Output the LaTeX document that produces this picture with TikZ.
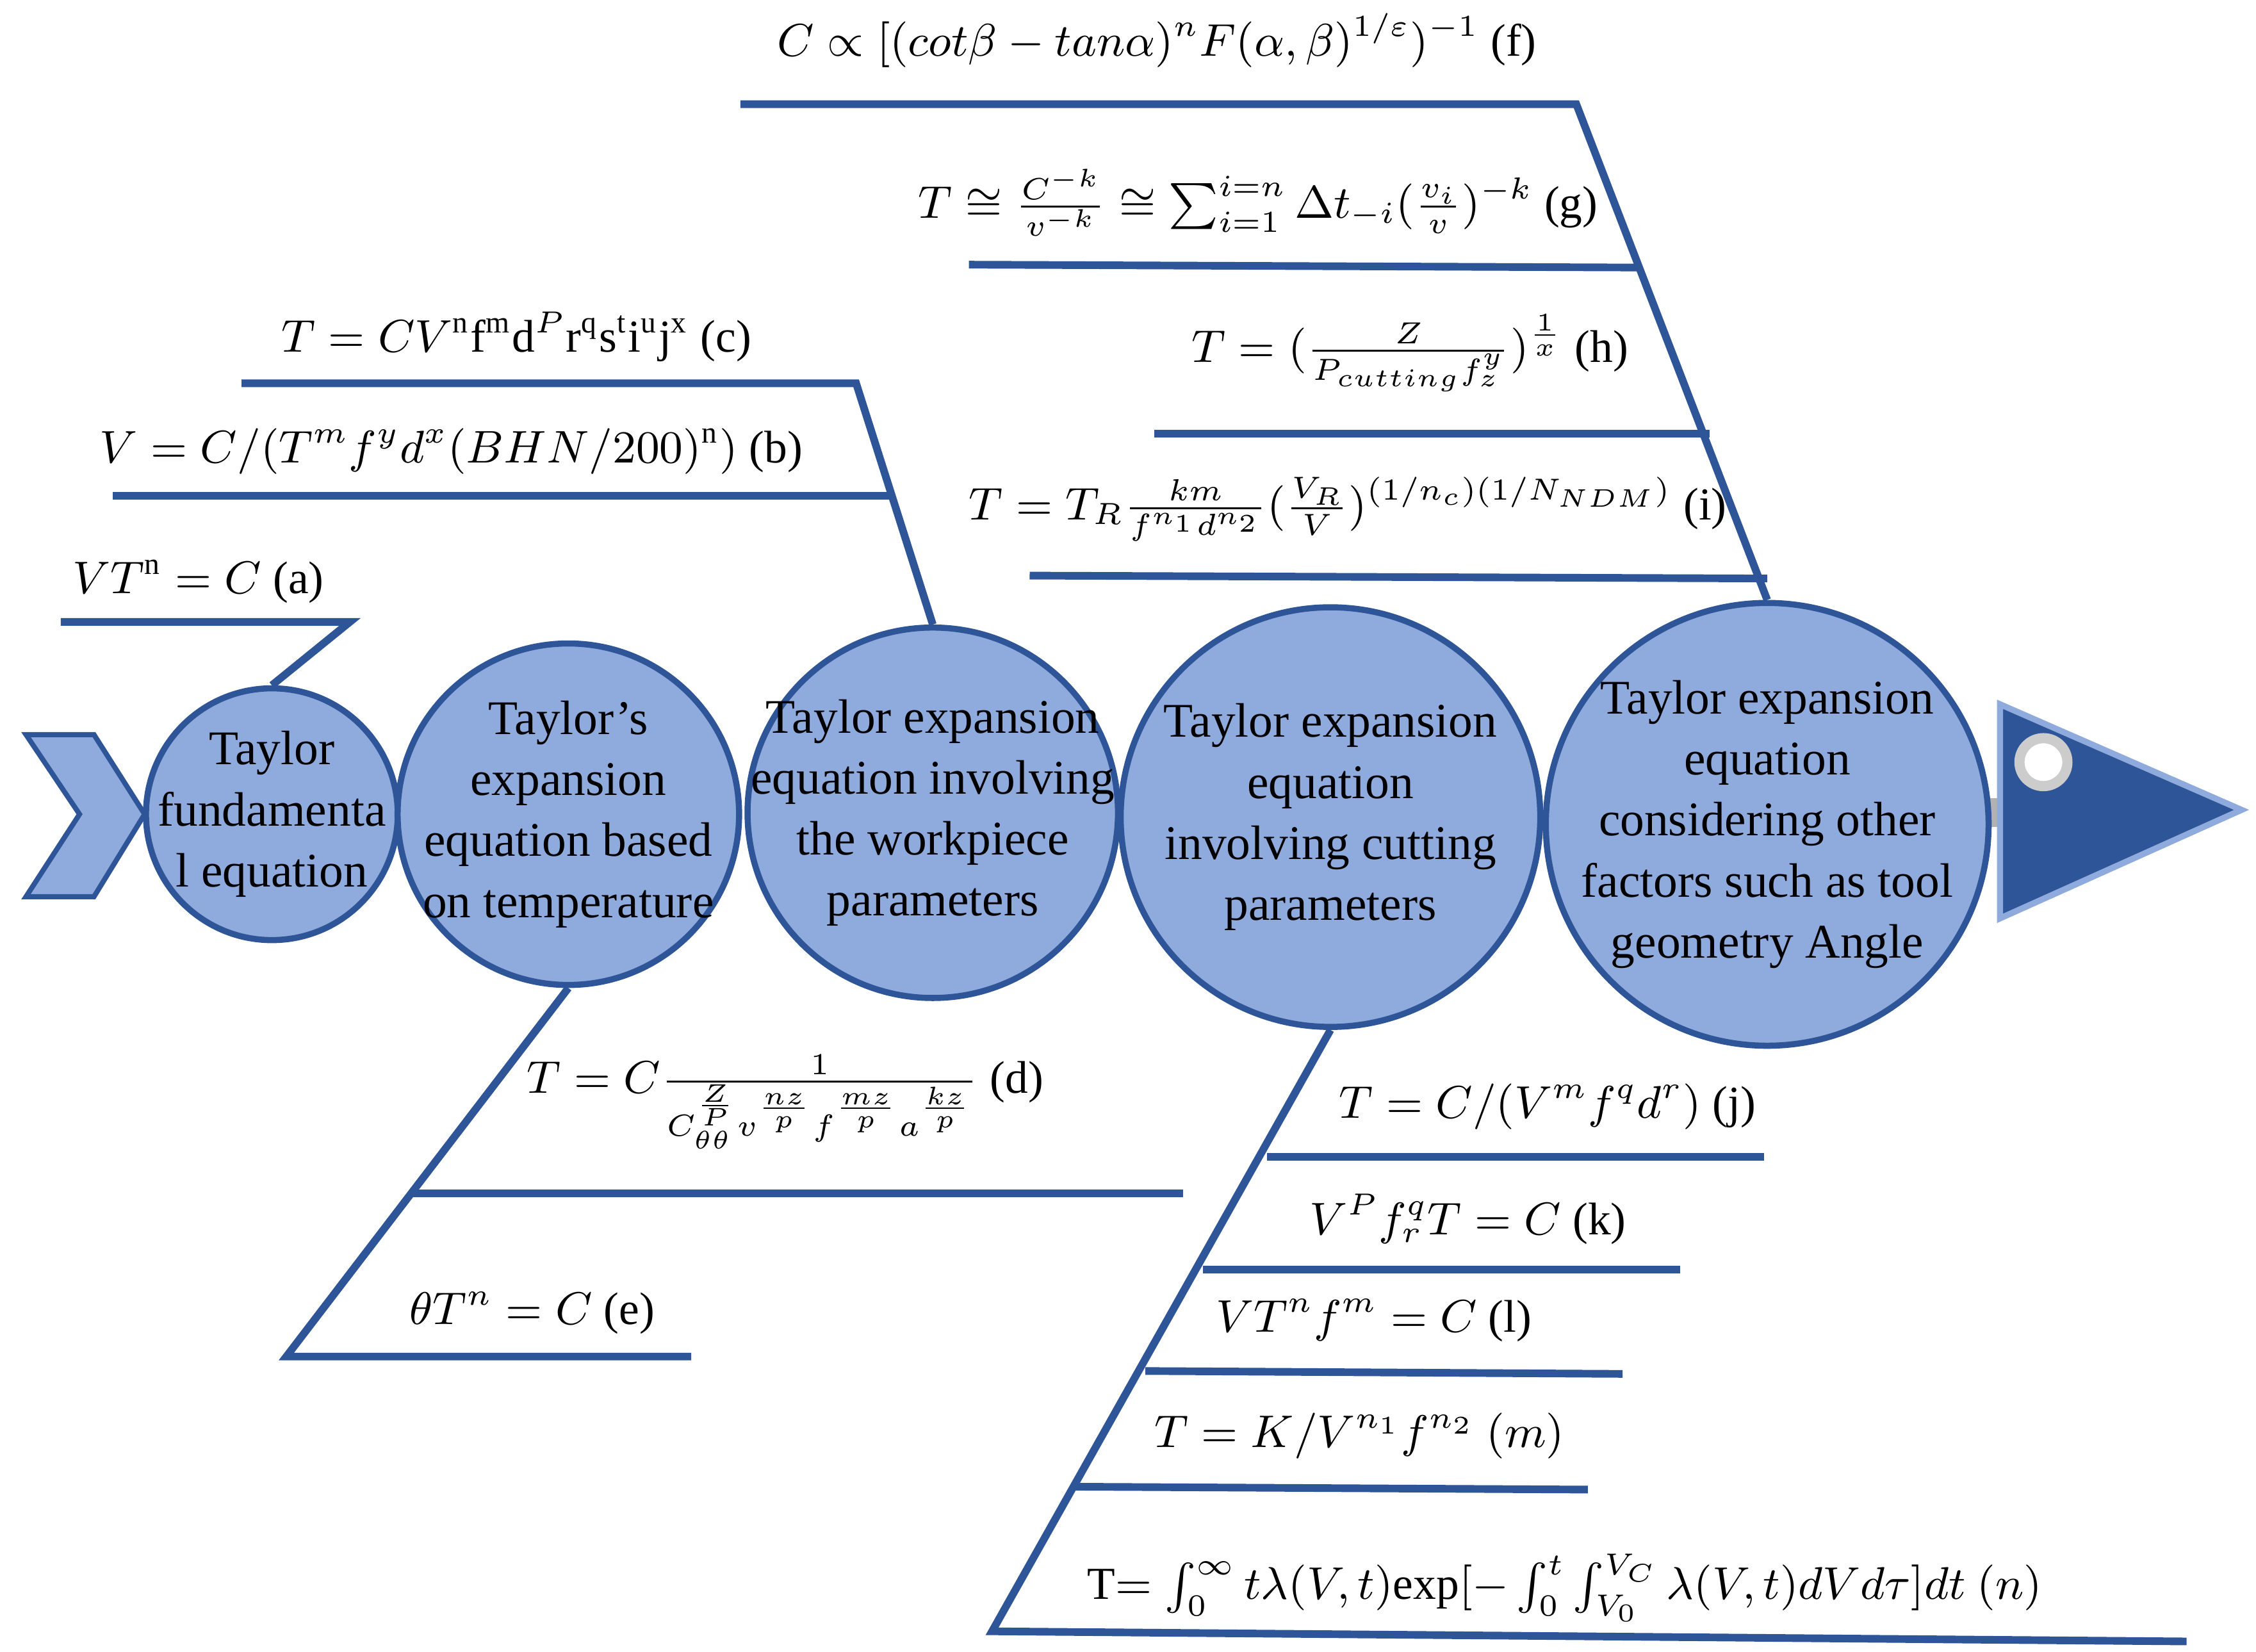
\documentclass[tikz,border=0pt]{standalone}
\usepackage{fontspec}
\setmainfont{Liberation Serif}
\usepackage{amsmath,amssymb}
\definecolor{dk}{HTML}{2E5597}
\definecolor{lt}{HTML}{8FAADC}
\begin{document}
\begin{tikzpicture}[x=0.01cm,y=-0.01cm,font=\fontsize{9}{12}\selectfont,
  bone/.style={draw=dk,line width=1.5pt},
  circ/.style={circle,draw=dk,line width=1.2pt,fill=lt,inner sep=0pt},
  ctext/.style={align=center,inner sep=0pt,font=\fontsize{9.5}{12}\selectfont},
  eq/.style={inner sep=0pt,font=\fontsize{9}{11}\selectfont}]
\useasboundingbox (0,0) rectangle (1560,1142);
\fill[lt,draw=dk,line width=1pt] (18,508)--(65,508)--(100,563)--(65,620)--(18,620)--(55,563)--cycle;
\fill[gray!60] (1370,552) rectangle (1386,572);
\fill[dk,draw=lt,line width=1.2pt] (1383,487)--(1550,560)--(1383,635)--cycle;
\node[circle,fill=white,draw=gray!40,line width=2pt,minimum size=0.24cm] (dot) at (1413,527) {};
\node[circ,minimum size=1.74cm] (c1) at (188,563) {};
\node[circ,minimum size=2.36cm] (c2) at (393,563) {};
\node[circ,minimum size=2.56cm] (c3) at (645,562) {};
\node[circ,minimum size=2.90cm] (c4) at (920,565) {};
\node[circ,minimum size=3.06cm] (c5) at (1222,570) {};
\node[ctext] (t1) at (c1) {Taylor\\fundamenta\\l equation};
\node[ctext] (t2) at (c2) {Taylor's\\expansion\\equation based\\on temperature};
\node[ctext] (t3) at (c3) {Taylor expansion\\equation involving\\the workpiece\\parameters};
\node[ctext] (t4) at (c4) {Taylor expansion\\equation\\involving cutting\\parameters};
\node[ctext] (t5) at (c5) {Taylor expansion\\equation\\considering other\\factors such as tool\\geometry Angle};
% branch a
\coordinate (a0) at (42,430); \coordinate (a1) at (242,430);
\draw[bone] (a0)--(a1)--(c1.north);
% branch b,c
\coordinate (c0) at (167,265); \coordinate (c1t) at (592,265);
\coordinate (b0) at (78,343); \coordinate (b1) at (616,343);
\draw[bone] (c0)--(c1t)--(c3.north);
\draw[bone] (b0)--(b1);
% branch f-i
\coordinate (f0) at (512,72); \coordinate (f1) at (1090,72);
\draw[bone] (f0)--(f1)--(c5.north);
\coordinate (g0) at (670,183); \coordinate (g1) at (1135,185);
\coordinate (h0) at (798,300); \coordinate (h1) at (1182,300);
\coordinate (i0) at (712,398); \coordinate (i1) at (1222,400);
\draw[bone] (g0)--(g1); \draw[bone] (h0)--(h1); \draw[bone] (i0)--(i1);
% branch d,e
\coordinate (e0) at (198,938); \coordinate (e1) at (478,938);
\draw[bone] (c2.south)--(e0)--(e1);
\coordinate (d0) at (283,825); \coordinate (d1) at (818,825);
\draw[bone] (d0)--(d1);
% branch j-n
\coordinate (n0) at (686,1128); \coordinate (n1) at (1512,1135);
\draw[bone] (c4.south)--(n0)--(n1);
\coordinate (j0) at (876,800); \coordinate (j1) at (1220,800);
\coordinate (k0) at (832,878); \coordinate (k1) at (1162,878);
\coordinate (l0) at (792,948); \coordinate (l1) at (1122,950);
\coordinate (m0) at (742,1028); \coordinate (m1) at (1098,1030);
\draw[bone] (j0)--(j1); \draw[bone] (k0)--(k1); \draw[bone] (l0)--(l1); \draw[bone] (m0)--(m1);
% labels
\node[eq] (tf) at (800,28) {$C \propto [(cot\beta - tan\alpha)^n F(\alpha,\beta)^{1/\varepsilon})^{-1}$ (f)};
\node[eq] (tg) at (870,140) {$T \cong \frac{C^{-k}}{v^{-k}} \cong \sum_{i=1}^{i=n}\Delta t_{-i}(\frac{v_i}{v})^{-k}$ (g)};
\node[eq] (th) at (975,244) {$T = (\frac{Z}{P_{cutting} f_z^y})^{\frac1x}$ (h)};
\node[eq] (ti) at (932,352) {$T = T_R \frac{km}{f^{n_1}d^{n_2}}(\frac{V_R}{V})^{(1/n_c)(1/N_{NDM})}$ (i)};
\node[eq] (tc) at (357,233) {$T = CV^{\mathrm n}\mathrm f^{\mathrm m}\mathrm d^P \mathrm r^{\mathrm q}\mathrm s^{\mathrm t}\mathrm i^{\mathrm u}\mathrm j^{\mathrm x}$ (c)};
\node[eq] (tb) at (312,312) {$V = C/(T^m f^y d^x (BHN/200)^{\mathrm n})$ (b)};
\node[eq] (ta) at (137,402) {$VT^{\mathrm n} = C$ (a)};
\node[eq] (td) at (543,762) {$T = C\frac{1}{C_{\theta\theta}^{\frac ZP} v^{\frac{nz}{p}} f^{\frac{mz}{p}} a^{\frac{kz}{p}}}$ (d)};
\node[eq] (te) at (368,908) {$\theta T^n = C$ (e)};
\node[eq] (tj) at (1070,765) {$T = C/(V^m f^q d^r)$ (j)};
\node[eq] (tk) at (1015,843) {$V^P f_r^q T = C$ (k)};
\node[eq] (tl) at (950,913) {$VT^n f^m = C$ (l)};
\node[eq] (tm) at (940,993) {$T = K/V^{n_1} f^{n_2}\ (m)$};
\node[eq] (tn) at (1082,1098) {T$= \int_0^\infty t\lambda(V,t)\mathrm{exp}[-\int_0^t\int_{V_0}^{V_C}\lambda(V,t)dVd\tau]dt\ (n)$};
\end{tikzpicture}
\end{document}
